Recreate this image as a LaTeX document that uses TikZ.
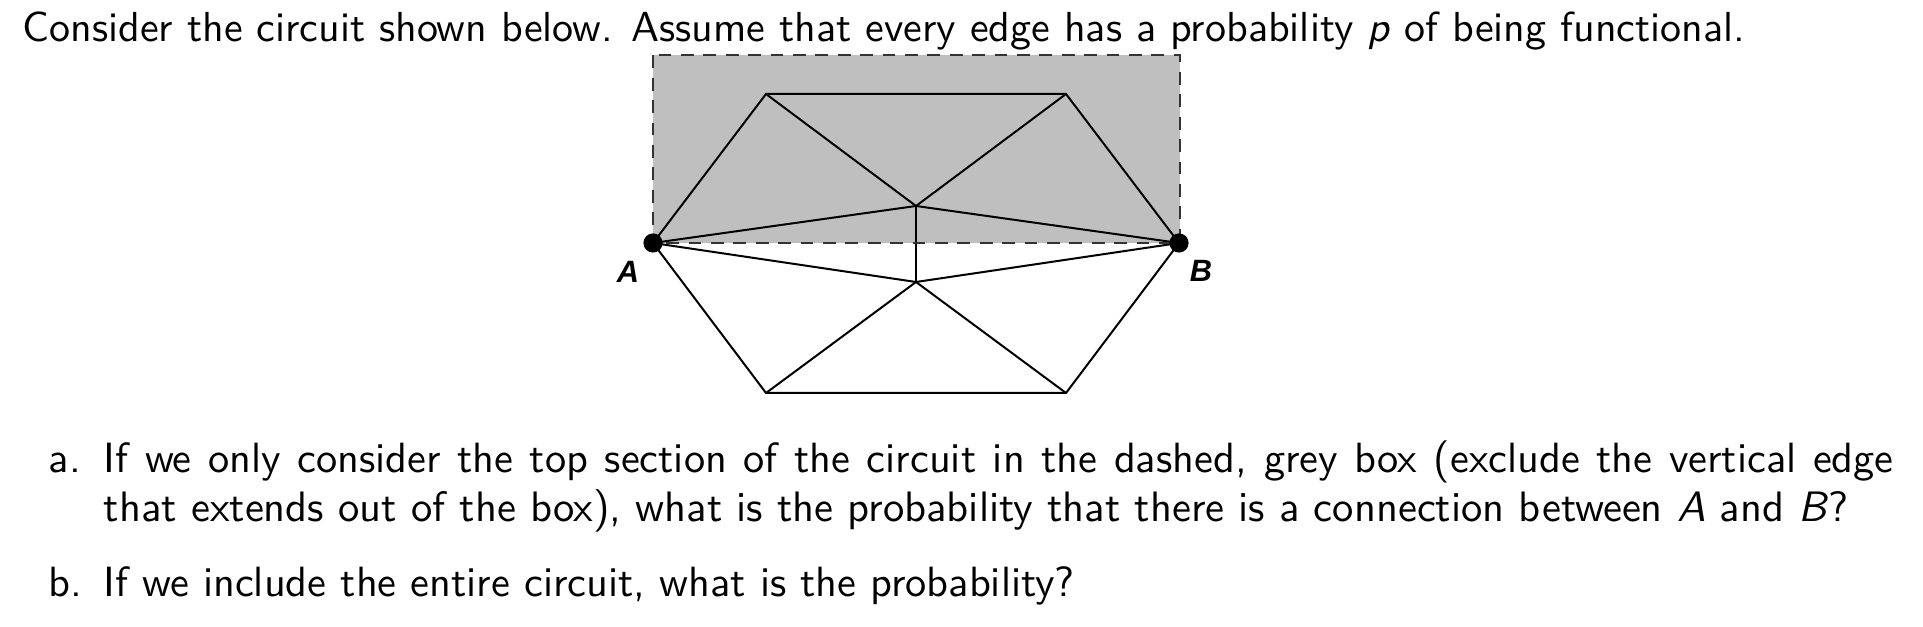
\documentclass[tikz,border=0pt]{standalone}
\usepackage{fontspec}
\newfontfamily\lblfont{Liberation Sans}
\begin{document}
\begin{tikzpicture}[x=0.25pt,y=-0.25pt,
  edge/.style={line width=0.5pt,black},
  vtx/.style={coordinate},
  dot/.style={circle,fill=black,inner sep=0pt,minimum size=4.8pt},
  txt/.style={anchor=base west,inner sep=0pt,font=\fontsize{10.58pt}{12.25pt}\selectfont\sffamily},
  lbl/.style={inner sep=0pt,font=\fontsize{7.7pt}{9pt}\selectfont\lblfont\bfseries\itshape}]
\useasboundingbox[fill=white] (0,0) rectangle (1923,627);
% grey box
\fill[fill={rgb,255:red,191;green,191;blue,191}] (652.5,55.5) rectangle (1179.5,243.5);
% vertices
\node[vtx] (A) at (653,243) {};
\node[vtx] (B) at (1179,243) {};
\node[vtx] (TL) at (766,94) {};
\node[vtx] (TR) at (1066,94) {};
\node[vtx] (UC) at (916,206) {};
\node[vtx] (LC) at (916,282) {};
\node[vtx] (BL) at (766,393) {};
\node[vtx] (BR) at (1066,393) {};
% edges
\draw[edge] (A) -- (TL) -- (TR) -- (B);
\draw[edge] (TL) -- (UC) -- (TR);
\draw[edge] (A) -- (UC) -- (B);
\draw[edge] (UC) -- (LC);
\draw[edge] (A) -- (LC) -- (B);
\draw[edge] (A) -- (BL) -- (BR) -- (B);
\draw[edge] (BL) -- (LC) -- (BR);
% dashed border
\draw[line width=0.5pt,draw={rgb,255:red,51;green,51;blue,51},dash pattern=on 3.2pt off 2.4pt]
  (652.5,55.5) rectangle (1179.5,243.5);
\node[dot] (Ad) at (A) {};
\node[dot] (Bd) at (B) {};
\node[lbl] (Al) at (628,272) {A};
\node[lbl] (Bl) at (1201,271) {B};
% text
\node[txt,font=\fontsize{10.5pt}{12.25pt}\selectfont\sffamily] (t1) at (22,42) {Consider the circuit shown below. Assume that every edge has a probability \textit{p} of being functional.};
\node[txt] (la) at (48,473) {a.};
\node[txt] (a1) at (103,473) {\makebox[447.5pt][s]{If we only consider the top section of the circuit in the dashed, grey box (exclude the vertical edge}};
\node[txt,font=\fontsize{10.64pt}{12.25pt}\selectfont\sffamily] (a2) at (103,522) {that extends out of the box), what is the probability that there is a connection between \textit{A} and \textit{B}?};
\node[txt] (lb) at (48,597) {b.};
\node[txt] (b1) at (103,597) {If we include the entire circuit, what is the probability?};
\end{tikzpicture}
\end{document}
